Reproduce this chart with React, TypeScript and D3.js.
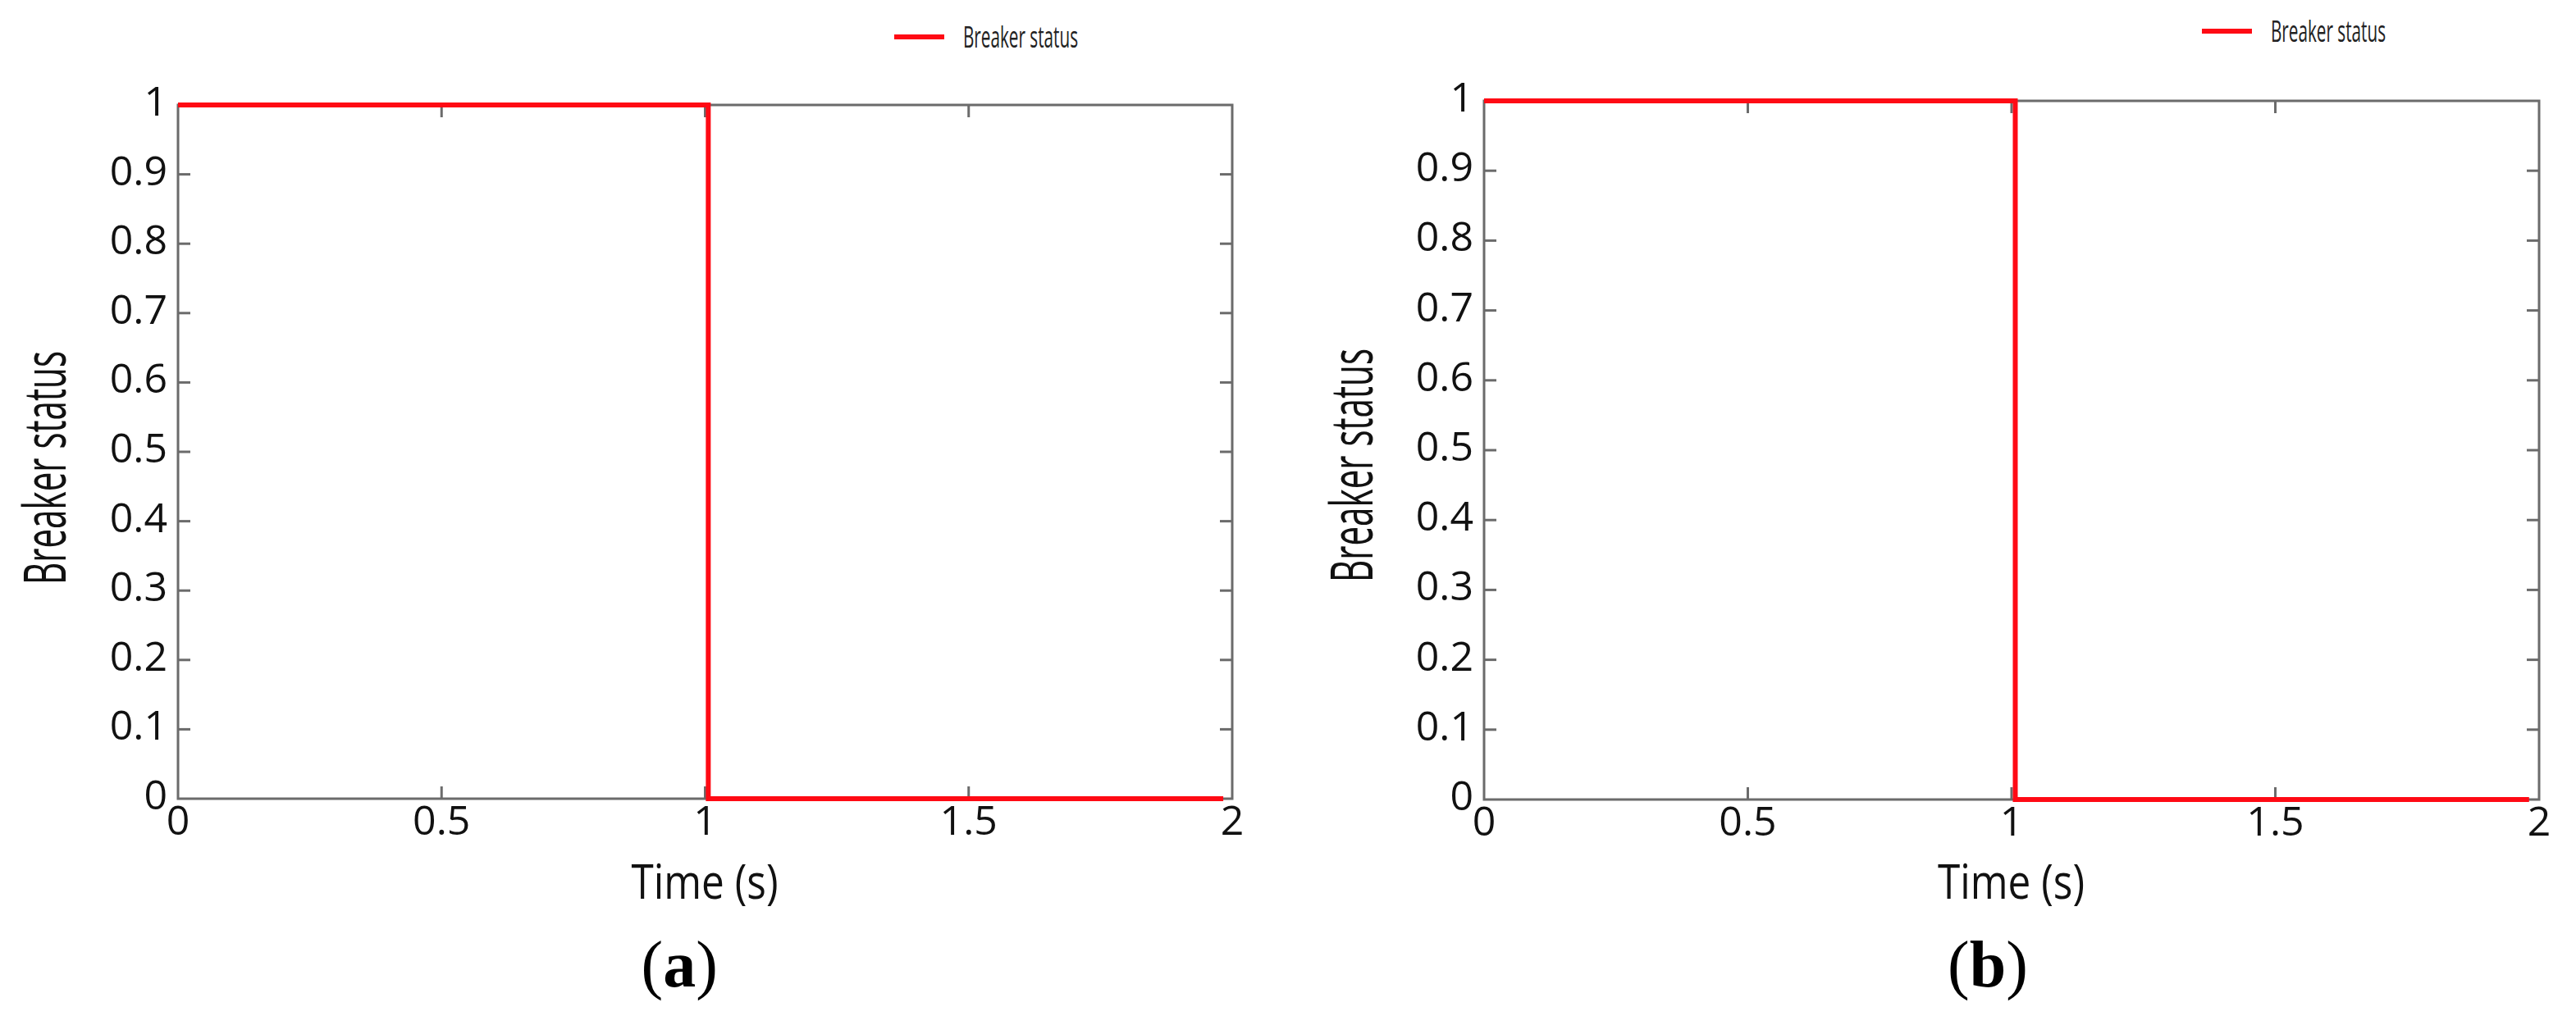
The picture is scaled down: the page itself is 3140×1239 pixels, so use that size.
import React, { useRef, useEffect } from 'react';
import * as d3 from 'd3';

// breaker status vs time, two cases (a) and (b)
const timeA = [0, 1.006, 1.983];
const statusA = [1, 0, 0];
const timeB = [0, 1.007, 1.981];
const statusB = [1, 0, 0];

const xTicks = [0, 0.5, 1, 1.5, 2];
const xTickLabels = ['0', '0.5', '1', '1.5', '2'];
const yTicks = [0, 0.1, 0.2, 0.3, 0.4, 0.5, 0.6, 0.7, 0.8, 0.9, 1];
const yTickLabels = ['0', '0.1', '0.2', '0.3', '0.4', '0.5', '0.6', '0.7', '0.8', '0.9', '1'];

const seriesName = 'Breaker status';
const xTitle = 'Time (s)';
const yTitle = 'Breaker status';
const panelTags = ['a', 'b'];

const AXIS = '#6b6b6b';
const RED = '#ff0a14';
const SANS = "'Open Sans', 'Noto Sans', sans-serif";
const SERIF = "'Liberation Serif', 'Times New Roman', serif";

function App() {
    const ref = useRef(null);

    useEffect(() => {
        const svg = d3.select(ref.current);
        svg.selectAll('*').remove();

        const panels = [
            { time: timeA, status: statusA, tag: panelTags[0], left: 217, right: 1502, top: 128, bottom: 974,
              legX: 1090, legY: 45, yLabX: 80, yLabY: 570 },
            { time: timeB, status: statusB, tag: panelTags[1], left: 1809, right: 3095, top: 123, bottom: 975,
              legX: 2684, legY: 38, yLabX: 1673, yLabY: 567 },
        ];

        panels.forEach(p => {
            const x = d3.scaleLinear().domain([0, 2]).range([p.left, p.right]);
            const y = d3.scaleLinear().domain([0, 1]).range([p.bottom, p.top]);
            const g = svg.append('g');
            const tickLen = 15;

            // inward ticks on all four sides
            const ticks = g.append('g').attr('stroke', AXIS).attr('stroke-width', 3);
            xTicks.slice(1, -1).forEach(t => {
                ticks.append('line').attr('x1', x(t)).attr('x2', x(t)).attr('y1', p.bottom).attr('y2', p.bottom - tickLen);
                ticks.append('line').attr('x1', x(t)).attr('x2', x(t)).attr('y1', p.top).attr('y2', p.top + tickLen);
            });
            yTicks.slice(1, -1).forEach(t => {
                ticks.append('line').attr('x1', p.left).attr('x2', p.left + tickLen).attr('y1', y(t)).attr('y2', y(t));
                ticks.append('line').attr('x1', p.right).attr('x2', p.right - tickLen).attr('y1', y(t)).attr('y2', y(t));
            });

            g.append('rect')
                .attr('x', p.left).attr('y', p.top)
                .attr('width', p.right - p.left).attr('height', p.bottom - p.top)
                .attr('fill', 'none').attr('stroke', AXIS).attr('stroke-width', 3);

            // tick labels
            g.append('g').selectAll('text').data(xTicks).join('text')
                .attr('x', d => x(d)).attr('y', p.bottom + 44)
                .attr('text-anchor', 'middle')
                .attr('font-family', SANS).attr('font-size', 50).attr('fill', '#111')
                .text((d, i) => xTickLabels[i]);
            g.append('g').selectAll('text').data(yTicks).join('text')
                .attr('x', p.left - 13).attr('y', d => y(d) + 13)
                .attr('text-anchor', 'end')
                .attr('font-family', SANS).attr('font-size', 50).attr('fill', '#111')
                .text((d, i) => yTickLabels[i]);

            // series
            const line = d3.line().x(d => x(d[0])).y(d => y(d[1])).curve(d3.curveStepAfter);
            g.append('path')
                .datum(p.time.map((t, i) => [t, p.status[i]]))
                .attr('d', line)
                .attr('fill', 'none').attr('stroke', RED).attr('stroke-width', 6);

            // legend
            g.append('line')
                .attr('x1', p.legX).attr('x2', p.legX + 61).attr('y1', p.legY).attr('y2', p.legY)
                .attr('stroke', RED).attr('stroke-width', 6);
            g.append('text')
                .attr('x', p.legX + 84).attr('y', p.legY + 13)
                .attr('font-family', SANS).attr('font-size', 37).attr('fill', '#222')
                .attr('textLength', 140).attr('lengthAdjust', 'spacingAndGlyphs')
                .text(seriesName);

            // axis titles
            const xMid = (p.left + p.right) / 2;
            g.append('text')
                .attr('x', xMid - 90).attr('y', 1096)
                .attr('font-family', SANS).attr('font-size', 58).attr('fill', '#111')
                .attr('textLength', 179).attr('lengthAdjust', 'spacingAndGlyphs')
                .text(xTitle);
            g.append('text')
                .attr('transform', `translate(${p.yLabX},${p.yLabY + 143}) rotate(-90)`)
                .attr('font-family', SANS).attr('font-size', 72).attr('fill', '#111')
                .attr('textLength', 285).attr('lengthAdjust', 'spacingAndGlyphs')
                .text(yTitle);

            // panel tag, bold letter between plain brackets
            const tag = g.append('text')
                .attr('x', xMid - 78).attr('y', 1203)
                .attr('font-family', SERIF)
                .attr('font-size', 80).attr('fill', '#000');
            tag.append('tspan').text('(');
            tag.append('tspan').attr('font-weight', 'bold').text(p.tag);
            tag.append('tspan').text(')');
        });
    }, []);

    return (
        <svg ref={ref} width="3140" height="1239"
            style={{ position: 'absolute', left: 0, top: 0, background: '#fff' }} />
    );
}

export default App;
